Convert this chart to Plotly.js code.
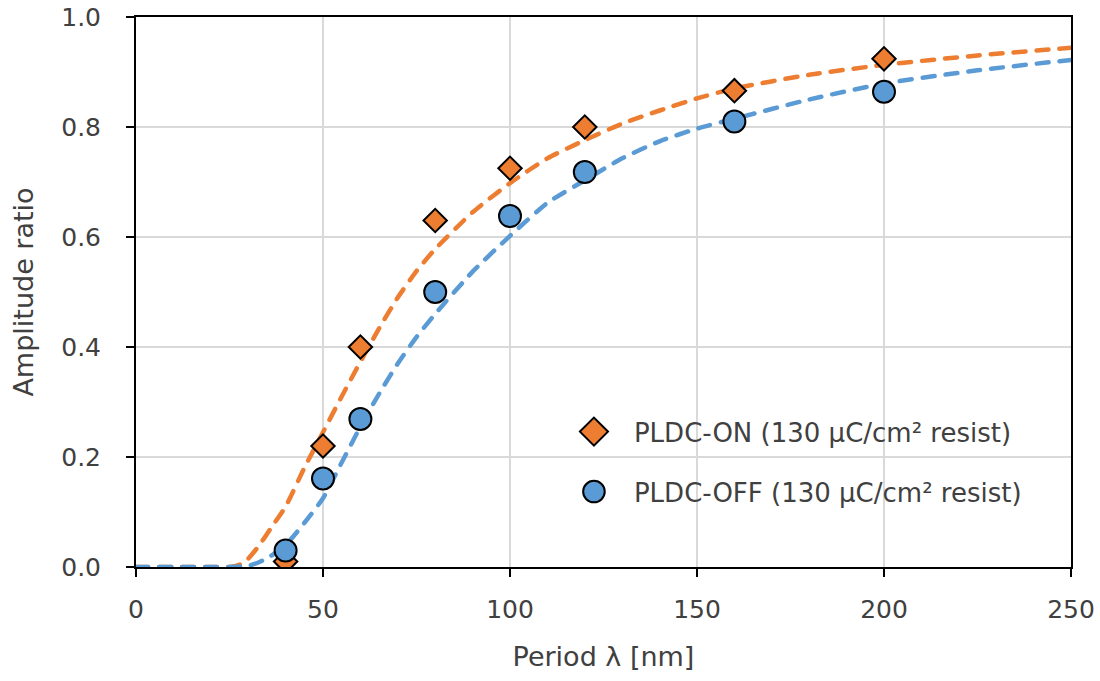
<!DOCTYPE html>
<html>
<head>
<meta charset="utf-8">
<script src="https://cdn.plot.ly/plotly-3.0.1.min.js"></script>
<style>
  html, body { margin: 0; padding: 0; background: #ffffff; }
  #chart { width: 1100px; height: 681px; }
</style>
</head>
<body>
<div id="chart"></div>
<script>
// Measured amplitude ratios vs grating period
const periods = [40, 50, 60, 80, 100, 120, 160, 200];
const ratioOn  = [0.01, 0.22, 0.40, 0.63, 0.725, 0.80, 0.866, 0.924];
const ratioOff = [0.03, 0.161, 0.269, 0.50, 0.638, 0.718, 0.81, 0.864];

// Fitted response curves
const fitOnX = [0, 10, 20, 25, 28, 30, 33, 36, 40, 45, 50, 55, 60, 65, 70, 75, 80, 90, 100, 110, 120, 130, 140, 150, 160, 180, 200, 225, 250];
const fitOnY = [0, 0, 0, 0, 0.005, 0.015, 0.04, 0.07, 0.11, 0.18, 0.245, 0.31, 0.373, 0.434, 0.49, 0.538, 0.578, 0.645, 0.698, 0.743, 0.776, 0.806, 0.830, 0.852, 0.870, 0.895, 0.913, 0.930, 0.944];
const fitOffX = [0, 10, 20, 25, 30, 33, 36, 40, 45, 50, 55, 60, 65, 70, 75, 80, 90, 100, 110, 120, 130, 140, 150, 160, 180, 200, 225, 250];
const fitOffY = [0, 0, 0, 0, 0.002, 0.009, 0.02, 0.04, 0.08, 0.125, 0.19, 0.255, 0.315, 0.37, 0.418, 0.46, 0.537, 0.602, 0.662, 0.703, 0.743, 0.774, 0.797, 0.815, 0.85, 0.879, 0.903, 0.922];

const labelOn  = 'PLDC-ON (130 μC/cm² resist)';
const labelOff = 'PLDC-OFF (130 μC/cm² resist)';
const xTicks = [0, 50, 100, 150, 200, 250];
const yTicks = [0, 0.2, 0.4, 0.6, 0.8, 1.0];

const ORANGE = '#ED7D31';
const BLUE = '#5B9BD5';
const TEXT = '#404040';
const FONT = 'DejaVu Sans, Verdana, sans-serif';

const fitLine = color => ({ color: color, width: 4.5, dash: '12px,11px', shape: 'spline', smoothing: 0.6 });

const traces = [
  { x: fitOnX, y: fitOnY, type: 'scatter', mode: 'lines', line: fitLine(ORANGE), showlegend: false, hoverinfo: 'skip' },
  { x: fitOffX, y: fitOffY, type: 'scatter', mode: 'lines', line: fitLine(BLUE), showlegend: false, hoverinfo: 'skip' },
  {
    x: periods, y: ratioOn, type: 'scatter', mode: 'markers', name: labelOn,
    marker: { symbol: 'diamond', size: 18, color: ORANGE, line: { color: '#000000', width: 2 } },
    legend: 'legend'
  },
  {
    x: periods, y: ratioOff, type: 'scatter', mode: 'markers', name: labelOff,
    marker: { symbol: 'circle', size: 22, color: BLUE, line: { color: '#000000', width: 2 } },
    legend: 'legend2'
  }
];

const axisCommon = {
  showline: true, linecolor: '#000000', linewidth: 2, mirror: true,
  ticks: 'outside', ticklen: 8, tickwidth: 2, tickcolor: '#000000',
  showgrid: true, gridcolor: '#d9d9d9', gridwidth: 2,
  zeroline: false, ticklabeloverflow: 'allow',
  tickfont: { family: FONT, size: 25, color: TEXT }
};

const legendCommon = {
  xanchor: 'left', yanchor: 'middle',
  bgcolor: 'rgba(0,0,0,0)', borderwidth: 0,
  itemwidth: 70, itemsizing: 'trace',
  font: { family: FONT, size: 26, color: TEXT }
};

const layout = {
  width: 1100, height: 681,
  margin: { l: 136, r: 29, t: 17, b: 114 },
  paper_bgcolor: '#ffffff', plot_bgcolor: '#ffffff',
  xaxis: Object.assign({}, axisCommon, {
    range: [0, 250], tickvals: xTicks, ticktext: xTicks.map(String),
    ticklabelstandoff: 11,
    title: { text: 'Period λ [nm]', font: { family: FONT, size: 27, color: TEXT }, standoff: 24 }
  }),
  yaxis: Object.assign({}, axisCommon, {
    range: [0, 1], tickvals: yTicks, ticktext: yTicks.map(v => v.toFixed(1)),
    ticklabelstandoff: 20,
    title: { text: 'Amplitude ratio', font: { family: FONT, size: 27, color: TEXT }, standoff: 20 }
  }),
  legend: Object.assign({}, legendCommon, { x: 0.447, y: 0.246 }),
  legend2: Object.assign({}, legendCommon, { x: 0.447, y: 0.137 })
};

Plotly.newPlot('chart', traces, layout, { displayModeBar: false, staticPlot: true }).then(gd => {
  // rounded dash ends on the fitted curves
  gd.querySelectorAll('.scatterlayer .js-line').forEach(p => p.style.strokeLinecap = 'round');
  // legend symbols at the same size as the plotted markers
  gd.querySelectorAll('.legendpoints path.scatterpts').forEach(p => {
    const t = p.getAttribute('transform') || '';
    p.setAttribute('transform', t + ' scale(1.35)');
    p.style.strokeWidth = '1.5px';
  });
});
</script>
</body>
</html>
